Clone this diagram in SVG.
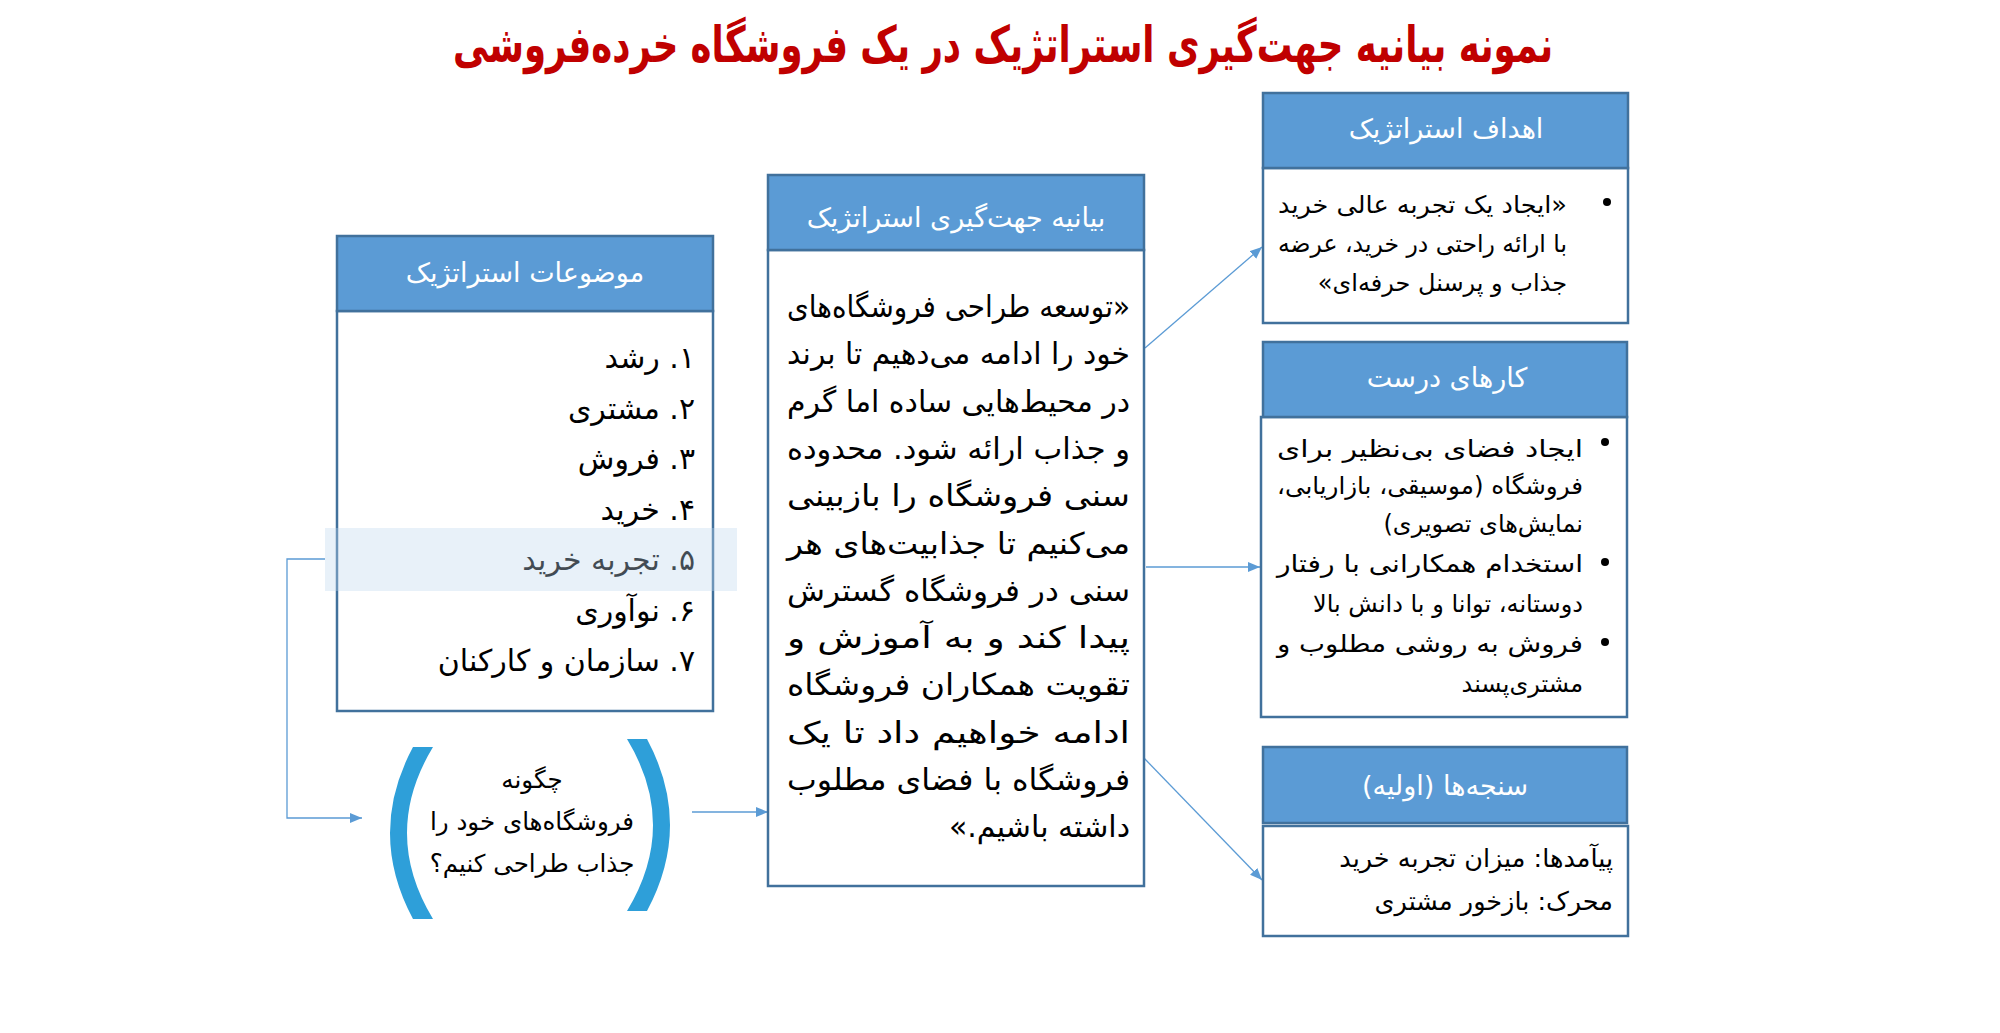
<svg xmlns="http://www.w3.org/2000/svg" width="2000" height="1033" viewBox="0 0 2000 1033">
<style>
.t{font-family:"DejaVu Sans","Noto Sans",sans-serif;direction:rtl;unicode-bidi:embed}
.title{font-size:50px;font-weight:bold;fill:#c00000}
.hdr{fill:#5b9bd5;stroke:#41719c;stroke-width:2.5}
.body{fill:#ffffff;stroke:#41719c;stroke-width:2.5}
.ht{font-size:27px;fill:#ffffff}
.lst{font-size:30px;fill:#000}
.para{font-size:30px;fill:#000}
.sm{font-size:24px;fill:#000}
.q{font-size:24.5px;fill:#000}
.con{fill:none;stroke:#5b9bd5;stroke-width:1.3}
.br{fill:#2e9fd9}
</style>
<defs>
<marker id="ah" markerUnits="userSpaceOnUse" markerWidth="13" markerHeight="11" refX="12" refY="5" orient="auto">
<path d="M0,0 L12,5 L0,10 z" fill="#5b9bd5"/>
</marker>
</defs>
<rect width="2000" height="1033" fill="#ffffff"/>

<g id="title">
<text class="t title" x="1003" y="62" text-anchor="middle" textLength="1100" lengthAdjust="spacingAndGlyphs">نمونه بیانیه جهت‌گیری استراتژیک در یک فروشگاه خرده‌فروشی</text>
</g>

<g id="connectors">
<polyline class="con" points="325,559 287,559 287,818 362,818" marker-end="url(#ah)"/>
<line class="con" x1="692" y1="812" x2="768" y2="812" marker-end="url(#ah)"/>
<line class="con" x1="1145" y1="348" x2="1262" y2="247" marker-end="url(#ah)"/>
<line class="con" x1="1146" y1="567" x2="1260" y2="567" marker-end="url(#ah)"/>
<line class="con" x1="1143" y1="757" x2="1262" y2="880" marker-end="url(#ah)"/>
</g>

<g id="topics">
<rect class="body" x="337" y="311" width="376" height="400"/>
<rect class="hdr" x="337" y="236" width="376" height="75"/>
<text class="t ht" x="525" y="282" text-anchor="middle">موضوعات استراتژیک</text>
<text class="t lst" x="695" y="368" text-anchor="start">۱. رشد</text>
<text class="t lst" x="695" y="418.5" text-anchor="start">۲. مشتری</text>
<text class="t lst" x="695" y="469" text-anchor="start">۳. فروش</text>
<text class="t lst" x="695" y="519.5" text-anchor="start">۴. خرید</text>
<text class="t lst" x="695" y="570" text-anchor="start">۵. تجربه خرید</text>
<text class="t lst" x="695" y="620.5" text-anchor="start">۶. نوآوری</text>
<text class="t lst" x="695" y="671" text-anchor="start">۷. سازمان و کارکنان</text>
<rect x="325" y="528" width="412" height="63" fill="#bdd7ee" opacity="0.35"/>
</g>

<g id="question">
<path class="br" d="M433,747 L413,747 Q367,833 413,919 L433,919 Q381,833 433,747 Z"/>
<path class="br" d="M627,739 L647,739 Q693,825 647,911 L627,911 Q679,825 627,739 Z"/>
<text class="t q" x="532" y="788" text-anchor="middle">چگونه</text>
<text class="t q" x="532" y="830" text-anchor="middle">فروشگاه‌های خود را</text>
<text class="t q" x="532" y="872" text-anchor="middle">جذاب طراحی کنیم؟</text>
</g>

<g id="statement">
<rect class="body" x="768" y="250" width="376" height="636"/>
<rect class="hdr" x="768" y="175" width="376" height="75"/>
<text class="t ht" x="956" y="227" text-anchor="middle">بیانیه جهت‌گیری استراتژیک</text>
<text class="t para" x="1130" y="317" textLength="343" lengthAdjust="spacingAndGlyphs">«توسعه طراحی فروشگاه‌های</text>
<text class="t para" x="1130" y="364.3" textLength="343" lengthAdjust="spacingAndGlyphs">خود را ادامه می‌دهیم تا برند</text>
<text class="t para" x="1130" y="411.6" textLength="343" lengthAdjust="spacingAndGlyphs">در محیط‌هایی ساده اما گرم</text>
<text class="t para" x="1130" y="458.9" textLength="343" lengthAdjust="spacingAndGlyphs">و جذاب ارائه شود. محدوده</text>
<text class="t para" x="1130" y="506.2" textLength="343" lengthAdjust="spacingAndGlyphs">سنی فروشگاه را بازبینی</text>
<text class="t para" x="1130" y="553.5" textLength="343" lengthAdjust="spacingAndGlyphs">می‌کنیم تا جذابیت‌های هر</text>
<text class="t para" x="1130" y="600.8" textLength="343" lengthAdjust="spacingAndGlyphs">سنی در فروشگاه گسترش</text>
<text class="t para" x="1130" y="648.1" textLength="343" lengthAdjust="spacingAndGlyphs">پیدا کند و به آموزش و</text>
<text class="t para" x="1130" y="695.4" textLength="343" lengthAdjust="spacingAndGlyphs">تقویت همکاران فروشگاه</text>
<text class="t para" x="1130" y="742.7" textLength="343" lengthAdjust="spacingAndGlyphs">ادامه خواهیم داد تا یک</text>
<text class="t para" x="1130" y="790" textLength="343" lengthAdjust="spacingAndGlyphs">فروشگاه با فضای مطلوب</text>
<text class="t para" x="1130" y="837.3">داشته باشیم.»</text>
</g>

<g id="goals">
<rect class="body" x="1263" y="168" width="365" height="155"/>
<rect class="hdr" x="1263" y="93" width="365" height="75"/>
<text class="t ht" x="1446" y="138" text-anchor="middle">اهداف استراتژیک</text>
<circle cx="1607" cy="202" r="4" fill="#000"/>
<text class="t sm" x="1567" y="213" textLength="289" lengthAdjust="spacingAndGlyphs">«ایجاد یک تجربه عالی خرید</text>
<text class="t sm" x="1567" y="252" textLength="289" lengthAdjust="spacingAndGlyphs">با ارائه راحتی در خرید، عرضه</text>
<text class="t sm" x="1567" y="291">جذاب و پرسنل حرفه‌ای»</text>
</g>

<g id="right-things">
<rect class="body" x="1261" y="417" width="366" height="300"/>
<rect class="hdr" x="1263" y="342" width="364" height="75"/>
<text class="t ht" x="1447" y="387" text-anchor="middle">کارهای درست</text>
<circle cx="1605" cy="442" r="4" fill="#000"/>
<circle cx="1605" cy="562" r="4" fill="#000"/>
<circle cx="1605" cy="642" r="4" fill="#000"/>
<text class="t sm" x="1583" y="457" textLength="306" lengthAdjust="spacingAndGlyphs">ایجاد فضای بی‌نظیر برای</text>
<text class="t sm" x="1583" y="494" textLength="306" lengthAdjust="spacingAndGlyphs">فروشگاه (موسیقی، بازاریابی،</text>
<text class="t sm" x="1583" y="532">نمایش‌های تصویری)</text>
<text class="t sm" x="1583" y="572" textLength="306" lengthAdjust="spacingAndGlyphs">استخدام همکارانی با رفتار</text>
<text class="t sm" x="1583" y="612">دوستانه، توانا و با دانش بالا</text>
<text class="t sm" x="1583" y="652" textLength="306" lengthAdjust="spacingAndGlyphs">فروش به روشی مطلوب و</text>
<text class="t sm" x="1583" y="692">مشتری‌پسند</text>
</g>

<g id="metrics">
<rect class="body" x="1263" y="826" width="365" height="110"/>
<rect class="hdr" x="1263" y="747" width="364" height="76"/>
<text class="t ht" x="1445" y="795" text-anchor="middle">سنجه‌ها (اولیه)</text>
<text class="t sm" x="1613" y="867" style="font-size:25.5px">پیآمدها: میزان تجربه خرید</text>
<text class="t sm" x="1613" y="910" style="font-size:25.5px">محرک: بازخور مشتری</text>
</g>
</svg>
